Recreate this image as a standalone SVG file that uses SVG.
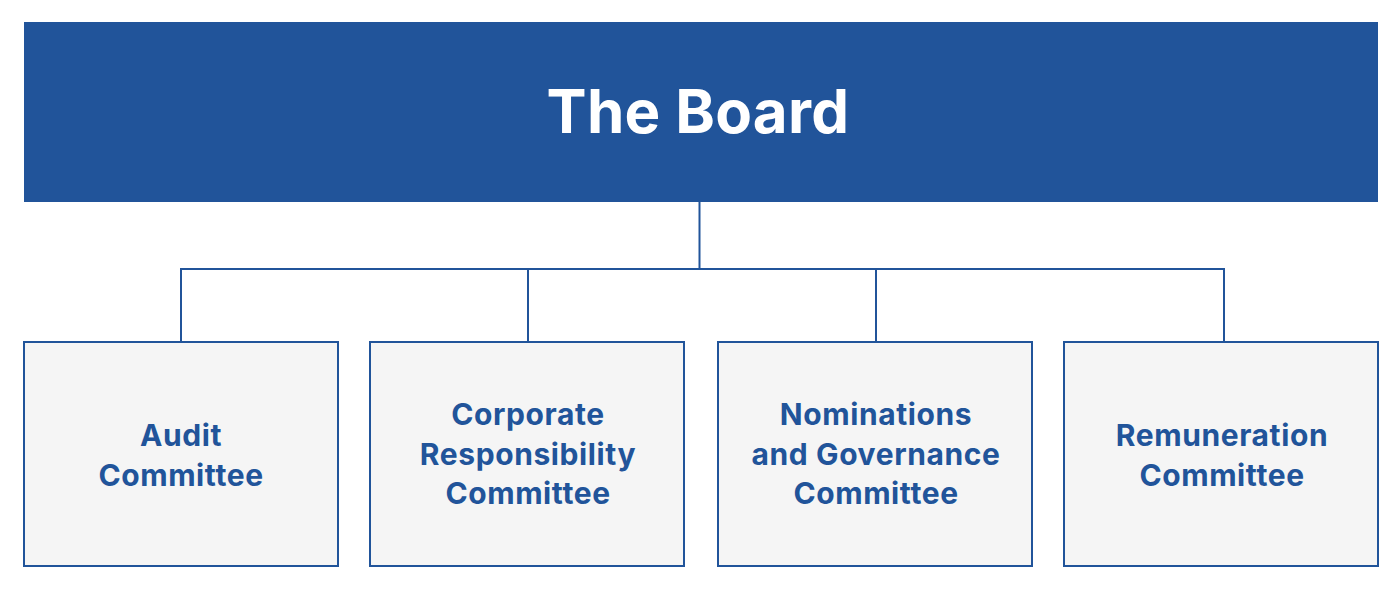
<svg xmlns="http://www.w3.org/2000/svg" width="1400" height="598" viewBox="0 0 1400 598">
<style>
.box{fill:#f5f5f5;stroke:#21549a;stroke-width:2}
.lbl{font-family:Inter,"Open Sans","Liberation Sans",sans-serif;font-weight:700;font-size:30px;letter-spacing:0.6px;fill:#21549a;text-anchor:middle}
.ttl{font-family:Inter,"Open Sans","Liberation Sans",sans-serif;font-weight:700;font-size:60px;letter-spacing:0.3px;fill:#ffffff;text-anchor:middle}
.con{fill:none;stroke:#21549a;stroke-width:2}
</style>
<rect width="1400" height="598" fill="#ffffff"/>
<g id="connectors">
<path class="con" d="M699.5 202 V269"/>
<path class="con" d="M181 269 H1224"/>
<path class="con" d="M181 268 V342"/>
<path class="con" d="M528 268 V342"/>
<path class="con" d="M876 268 V342"/>
<path class="con" d="M1224 268 V342"/>
</g>
<g id="board">
<rect x="24" y="22" width="1354" height="180" fill="#21549a"/>
<text class="ttl" x="698" y="133">The Board</text>
</g>
<g id="audit">
<rect class="box" x="24" y="342" width="314" height="224"/>
<text class="lbl" x="181" y="446">Audit</text>
<text class="lbl" x="181" y="486">Committee</text>
</g>
<g id="corporate">
<rect class="box" x="370" y="342" width="314" height="224"/>
<text class="lbl" x="528" y="425">Corporate</text>
<text class="lbl" x="528" y="465">Responsibility</text>
<text class="lbl" x="528" y="504">Committee</text>
</g>
<g id="nominations">
<rect class="box" x="718" y="342" width="314" height="224"/>
<text class="lbl" x="876" y="425">Nominations</text>
<text class="lbl" x="876" y="465">and Governance</text>
<text class="lbl" x="876" y="504">Committee</text>
</g>
<g id="remuneration">
<rect class="box" x="1064" y="342" width="314" height="224"/>
<text class="lbl" x="1222" y="446">Remuneration</text>
<text class="lbl" x="1222" y="486">Committee</text>
</g>
</svg>
